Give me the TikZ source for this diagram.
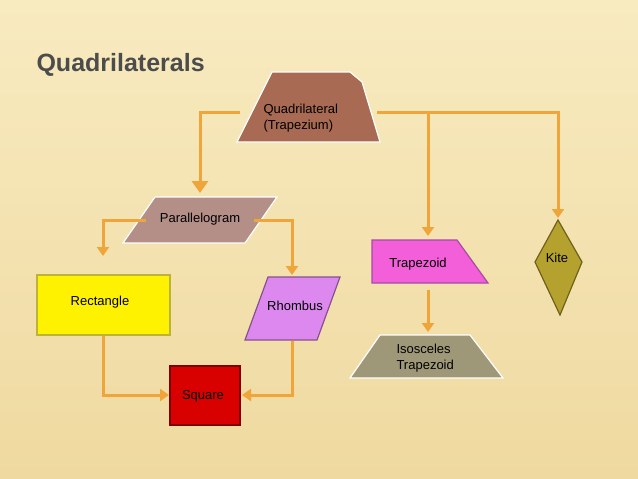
\documentclass[tikz,border=0pt]{standalone}
\usepackage{fontspec}
\setmainfont{Liberation Sans}
\usetikzlibrary{arrows.meta}
\definecolor{bgA}{HTML}{F8EBC0}
\definecolor{bgB}{HTML}{EFD9A0}
\definecolor{orng}{HTML}{F0A53A}
\definecolor{brn}{HTML}{A86A52}
\definecolor{pbrn}{HTML}{B38F88}
\definecolor{pnk}{HTML}{F25FD8}
\definecolor{vio}{HTML}{DD88EE}
\definecolor{isog}{HTML}{9F9878}
\definecolor{kit}{HTML}{B5A22E}
\begin{document}
\begin{tikzpicture}[x=1pt,y=-1pt,
  conn/.style={draw=orng,line width=3pt,-{Triangle[length=9pt,width=12pt]}},
  lbl/.style={font=\fontsize{13}{16}\selectfont,align=left,text=black},
  shp/.style={line width=1.2pt}]
\shade[top color=bgA,bottom color=bgB] (0,0) rectangle (638,479);
\useasboundingbox (0,0) rectangle (638,479);
\node[anchor=west,font=\bfseries\fontsize{25}{30}\selectfont,text=black!70] (title) at (33,65) {Quadrilaterals};
% shapes
\filldraw[shp,fill=brn,draw=white] (272,72)--(350,72)--(362,82)--(380,142)--(237,142)--cycle;
\node[lbl,anchor=west] (quad) at (260,118) {Quadrilateral\\(Trapezium)};
\filldraw[shp,fill=pbrn,draw=white] (123,243)--(155,197)--(277,197)--(245,243)--cycle;
\node[lbl] (para) at (200,219) {Parallelogram};
\filldraw[shp,fill=yellow,draw=yellow!70!black] (37,275) rectangle (170,335);
\node[lbl] (rect) at (100,302) {Rectangle};
\filldraw[shp,fill=vio,draw=vio!60!black] (245,340)--(268,277)--(340,277)--(317,340)--cycle;
\node[lbl] (rhom) at (295,306) {Rhombus};
\filldraw[shp,fill=red!85!black,draw=red!50!black] (170,366) rectangle (240,425);
\node[lbl] (sq) at (203,396) {Square};
\filldraw[shp,fill=pnk,draw=violet!70] (372,240)--(457,240)--(488,283)--(372,283)--cycle;
\node[lbl] (trap) at (418,264) {Trapezoid};
\filldraw[shp,fill=isog,draw=white] (380,335)--(470,335)--(503,378)--(350,378)--cycle;
\node[lbl,anchor=west] (iso) at (393,358) {Isosceles\\Trapezoid};
\filldraw[shp,fill=kit,draw=kit!60!black] (558,220)--(582,262)--(560,315)--(535,262)--cycle;
\node[lbl] (kite) at (557,258) {Kite};
% connectors
\coordinate (q1) at (377,112); \coordinate (q2) at (240,112);
\draw[conn] (q1) -- (558,112) -- (558,218);
\draw[conn] (428,112) -- (428,236);
\draw[conn,-{Triangle[length=12pt,width=16pt]}] (q2) -- (200,112) -- (200,193);
\draw[conn] (146,220) -- (103,220) -- (103,256);
\draw[conn] (254,220) -- (292,220) -- (292,275);
\draw[conn] (103,336) -- (103,395) -- (169,395);
\draw[conn] (292,341) -- (292,395) -- (242,395);
\draw[conn] (428,290) -- (428,332);
\end{tikzpicture}
\end{document}
